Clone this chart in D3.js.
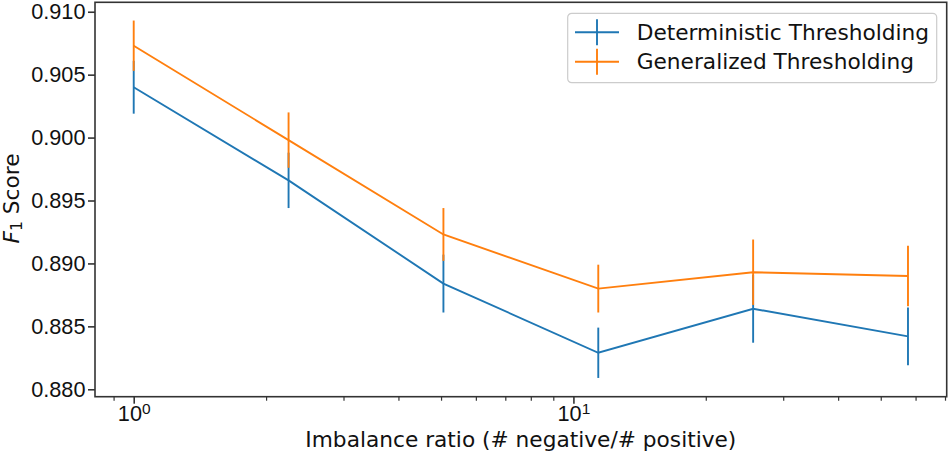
<!DOCTYPE html>
<html>
<head>
<meta charset="utf-8">
<script src="https://cdn.jsdelivr.net/npm/d3@7"></script>
<style>
  body { margin: 0; background: #fff; }
  svg { font-family: "DejaVu Sans", sans-serif; }
</style>
</head>
<body>
<div id="chart"></div>
<script>
// imbalance ratios (1.5^0, 1.5^2, ... 1.5^10)
var ratios = [1, 2.25, 5.0625, 11.390625, 25.62890625, 57.6650390625];
var seriesNames = ["Deterministic Thresholding", "Generalized Thresholding"];
var detMean = [0.9040, 0.8966, 0.8884, 0.8829, 0.8864, 0.8842];
var detErr = [0.0021, 0.0022, 0.0023, 0.0020, 0.0027, 0.0023];
var genMean = [0.9073, 0.8998, 0.8923, 0.8880, 0.8893, 0.8890];
var genErr = [0.0020, 0.0022, 0.0021, 0.0019, 0.0026, 0.0024];
var yTicks = [0.880, 0.885, 0.890, 0.895, 0.900, 0.905, 0.910];
var xMajor = [1, 10];
var xMinor = [0.9, 2, 3, 4, 5, 6, 7, 8, 9, 20, 30, 40, 50, 60, 70];
var colors = ["#1f77b4", "#ff7f0e"];

var fs = "21.7px", fsSmall = "15.5px";
var margin = {top: 2.3, right: 3.3, bottom: 57.3, left: 95},
    width = 950 - margin.left - margin.right,
    height = 454 - margin.top - margin.bottom;

var svg = d3.select("#chart")
  .append("svg")
    .attr("width", 950)
    .attr("height", 454)
  .append("g")
    .attr("transform", "translate(" + margin.left + "," + margin.top + ")");

// log x with matplotlib-like 5% margins
var lo = Math.log10(ratios[0]), hi = Math.log10(ratios[ratios.length - 1]);
var pad = (hi - lo) * 0.05;
var x = d3.scaleLog()
  .domain([Math.pow(10, lo - pad), Math.pow(10, hi + pad)])
  .range([0, width]);
var y = d3.scaleLinear()
  .domain([0.87941, 0.91075])
  .range([height, 0]);

var series = [
  {name: seriesNames[0], mean: detMean, err: detErr, color: colors[0]},
  {name: seriesNames[1], mean: genMean, err: genErr, color: colors[1]}
];

series.forEach(function(s) {
  var pts = ratios.map(function(r, i) { return {r: r, m: s.mean[i], e: s.err[i]}; });
  svg.append("path")
    .datum(pts)
    .attr("fill", "none")
    .attr("stroke", s.color)
    .attr("stroke-width", 1.9)
    .attr("d", d3.line()
      .x(function(d) { return x(d.r); })
      .y(function(d) { return y(d.m); }));
  svg.selectAll(null)
    .data(pts)
    .enter()
    .append("line")
      .attr("x1", function(d) { return x(d.r); })
      .attr("x2", function(d) { return x(d.r); })
      .attr("y1", function(d) { return y(d.m - d.e); })
      .attr("y2", function(d) { return y(d.m + d.e); })
      .attr("stroke", s.color)
      .attr("stroke-width", 1.9);
});

// frame
svg.append("rect")
  .attr("width", width)
  .attr("height", height)
  .attr("fill", "none")
  .attr("stroke", "#333")
  .attr("stroke-width", 1.6);

// y axis
var yAxis = svg.append("g")
  .call(d3.axisLeft(y).tickValues(yTicks).tickFormat(d3.format(".3f")).tickSize(7).tickPadding(2.5));
yAxis.select(".domain").remove();
yAxis.selectAll(".tick line").attr("stroke", "#333").attr("stroke-width", 1.6);
yAxis.selectAll("text").style("font-size", fs).attr("fill", "#111");

// x axis minor ticks
var xMin = svg.append("g")
  .attr("transform", "translate(0," + height + ")")
  .call(d3.axisBottom(x).tickValues(xMinor).tickSize(4).tickFormat(""));
xMin.select(".domain").remove();
xMin.selectAll(".tick line").attr("stroke", "#333").attr("stroke-width", 1.2);

// x axis major ticks, labels drawn as 10 with superscript
var xMaj = svg.append("g")
  .attr("transform", "translate(0," + height + ")")
  .call(d3.axisBottom(x).tickValues(xMajor).tickSize(7).tickFormat(""));
xMaj.select(".domain").remove();
xMaj.selectAll(".tick line").attr("stroke", "#333").attr("stroke-width", 1.6);
xMaj.selectAll(".tick").append("text")
  .attr("y", 24.3)
  .attr("text-anchor", "middle")
  .attr("fill", "#111")
  .style("font-size", fs)
  .each(function(d) {
    var t = d3.select(this);
    t.append("tspan").text("10");
    t.append("tspan").attr("dy", -6.5).style("font-size", fsSmall).text(Math.round(Math.log10(d)));
  });

// axis labels
svg.append("text")
  .attr("x", width / 2)
  .attr("y", height + 50.8)
  .attr("text-anchor", "middle")
  .attr("fill", "#111")
  .style("font-size", fs)
  .text("Imbalance ratio (# negative/# positive)");

var yl = svg.append("text")
  .attr("transform", "translate(" + (19 - margin.left) + "," + (198.5 - margin.top) + ") rotate(-90)")
  .attr("text-anchor", "middle")
  .attr("fill", "#111")
  .style("font-size", fs);
yl.append("tspan").style("font-style", "italic").text("F");
yl.append("tspan").attr("dy", 3).style("font-size", fsSmall).text("1");
yl.append("tspan").attr("dy", -3).text(" Score");

// legend
var lg = svg.append("g")
  .attr("transform", "translate(" + (567.7 - margin.left) + "," + (13.3 - margin.top) + ")");
lg.append("rect")
  .attr("width", 369)
  .attr("height", 69.4)
  .attr("rx", 4)
  .attr("fill", "#fff")
  .attr("fill-opacity", 0.8)
  .attr("stroke", "#ccc")
  .attr("stroke-width", 1.2);
series.forEach(function(s, i) {
  var row = lg.append("g").attr("transform", "translate(0," + (19 + i * 29.4) + ")");
  row.append("line")
    .attr("x1", 7.3).attr("x2", 51.3)
    .attr("stroke", s.color).attr("stroke-width", 1.9);
  row.append("line")
    .attr("x1", 29.3).attr("x2", 29.3).attr("y1", -13).attr("y2", 13)
    .attr("stroke", s.color).attr("stroke-width", 1.9);
  row.append("text")
    .attr("x", 69)
    .attr("dy", "0.35em")
    .attr("fill", "#111")
    .style("font-size", fs)
    .text(s.name);
});
</script>
</body>
</html>
